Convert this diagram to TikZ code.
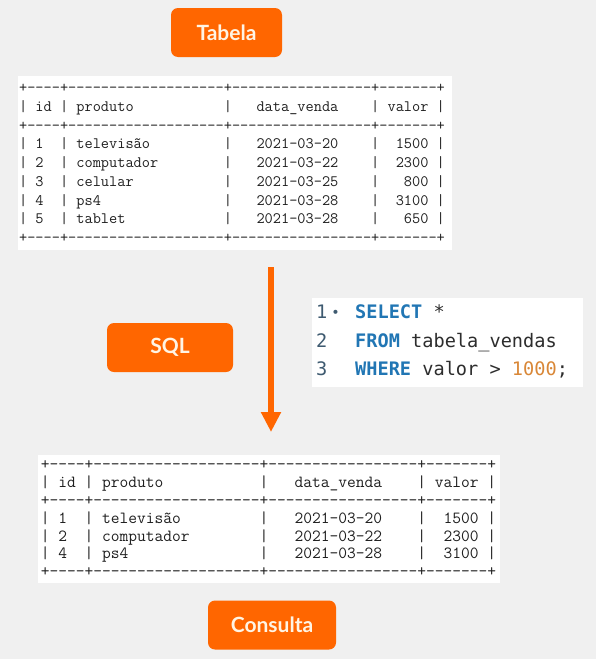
\documentclass[tikz,border=0pt]{standalone}
\usepackage{fontspec}
\newfontfamily\labelfont{Lato}
\newfontfamily\codefont{DejaVu Sans Mono}
\usetikzlibrary{arrows.meta}
\definecolor{brandorange}{RGB}{255,102,0}
\definecolor{paper}{RGB}{240,240,240}
\definecolor{labeltext}{RGB}{255,244,228}
\definecolor{keyword}{RGB}{33,118,180}
\definecolor{linenum}{RGB}{62,90,112}
\definecolor{numlit}{RGB}{217,135,55}
\definecolor{codetext}{RGB}{45,45,45}
\newcommand{\tabborder}{+----+-------------------+-----------------+-------+}
\begin{document}
\begin{tikzpicture}[x=1pt,y=-1pt,line cap=round,line join=round,
  tag/.style={fill=brandorange,rounded corners=7pt,text=labeltext,inner sep=0pt,minimum height=49pt,
    font=\labelfont\bfseries\fontsize{21}{24}\selectfont},
  panel/.style={fill=white,inner sep=0pt},
  tabline/.style={anchor=base west,inner sep=0pt,text=black!88,font=\ttfamily\fontsize{15.9}{18}\selectfont},
  restabline/.style={tabline,font=\ttfamily\fontsize{17}{18}\selectfont},
  codeline/.style={anchor=base west,inner sep=0pt,text=codetext,font=\codefont\fontsize{18.6}{22}\selectfont},
  numline/.style={codeline,text=linenum}]
\fill[paper] (0,0) rectangle (596,659);
% white backgrounds
\node[panel,minimum width=434pt,minimum height=174pt] (toppanel) at (235,163) {};
\node[panel,minimum width=271pt,minimum height=89pt] (codepanel) at (447.5,342.5) {};
\node[panel,minimum width=462pt,minimum height=128pt] (respanel) at (269,519) {};
% labels
\node[tag,minimum width=111pt] (tabela) at (226.5,32.5) {Tabela};
\node[tag,minimum width=126pt] (sql) at (170,347.5) {SQL};
\node[tag,minimum width=128pt] (consulta) at (272,625) {Consulta};
% source table
\foreach \row [count=\i from 0] in {
  {\tabborder},
  {|~id~|~produto~~~~~~~~~~~|~~~data\_venda~~~~|~valor~|},
  {\tabborder},
  {|~1~~|~televisão~~~~~~~~~|~~~2021-03-20~~~~|~~1500~|},
  {|~2~~|~computador~~~~~~~~|~~~2021-03-22~~~~|~~2300~|},
  {|~3~~|~celular~~~~~~~~~~~|~~~2021-03-25~~~~|~~~800~|},
  {|~4~~|~ps4~~~~~~~~~~~~~~~|~~~2021-03-28~~~~|~~3100~|},
  {|~5~~|~tablet~~~~~~~~~~~~|~~~2021-03-28~~~~|~~~650~|},
  {\tabborder}}
  \node[tabline] (src\i) at (18.9,92.5+18.75*\i) {\row};
% query
\node[numline] (num1) at (316,318.8) {1\hspace{4pt}\raisebox{1.5pt}{\fontsize{14}{14}\selectfont •}};
\node[numline] (num2) at (316,347.3) {2};
\node[numline] (num3) at (316,375.8) {3};
\node[codeline] (code1) at (355,318.8) {{\color{keyword}\bfseries SELECT} *};
\node[codeline] (code2) at (355,347.3) {{\color{keyword}\bfseries FROM} tabela\_vendas};
\node[codeline] (code3) at (355,375.8) {{\color{keyword}\bfseries WHERE} valor > {\color{numlit}1000};};
% result table
\foreach \row [count=\i from 0] in {
  {\tabborder},
  {|~id~|~produto~~~~~~~~~~~|~~~data\_venda~~~~|~valor~|},
  {\tabborder},
  {|~1~~|~televisão~~~~~~~~~|~~~2021-03-20~~~~|~~1500~|},
  {|~2~~|~computador~~~~~~~~|~~~2021-03-22~~~~|~~2300~|},
  {|~4~~|~ps4~~~~~~~~~~~~~~~|~~~2021-03-28~~~~|~~3100~|},
  {\tabborder}}
  \node[restabline] (res\i) at (40.6,469.8+17.8*\i) {\row};
% flow
\coordinate (flowstart) at (271,267);
\coordinate (flowend) at (271,432);
\draw[brandorange,line width=6.5pt,line cap=butt,-{Triangle[length=20pt,width=19pt]}] (flowstart) -- (flowend);
\end{tikzpicture}
\end{document}
